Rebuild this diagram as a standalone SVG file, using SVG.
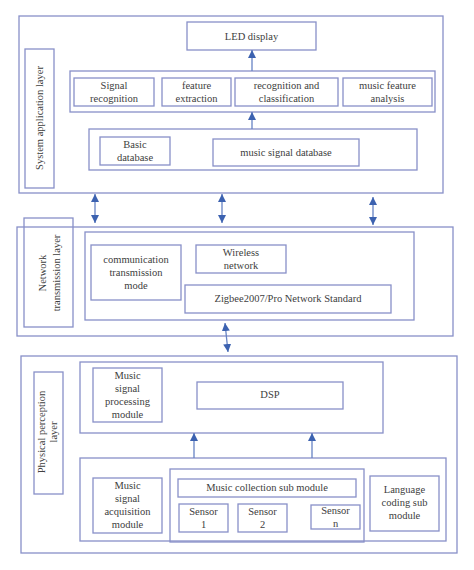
<svg xmlns="http://www.w3.org/2000/svg" width="474" height="570" viewBox="0 0 474 570">
<style>
rect{fill:none;stroke:#8890c8;stroke-width:1.3}
text{font-family:"Liberation Serif","Times New Roman",serif;font-size:10.5px;fill:#404040;text-anchor:middle}
.c line{stroke:#6683c4;stroke-width:1.3}
</style>
<defs>
<marker id="ah" viewBox="0 0 10 10" refX="10" refY="5" markerWidth="8" markerHeight="8" markerUnits="userSpaceOnUse" orient="auto-start-reverse">
<path d="M0,0 L10,5 L0,10 Z" fill="#3c62b0"/>
</marker>
</defs>
<rect width="474" height="570" style="fill:#fff;stroke:none"/>

<g id="system-layer">
<rect x="19" y="16" width="424" height="177"/>
<rect x="25" y="49" width="29" height="139"/>
<text transform="translate(43,118) rotate(-90)">System application layer</text>
</g>
<g id="led"><rect x="187" y="22" width="129" height="28"/><text x="251.5" y="39.5">LED display</text></g>
<g id="analysis-row"><rect x="70" y="71" width="365" height="41"/></g>
<g id="signal-recognition"><rect x="74" y="78" width="80" height="28"/><text x="114" y="88.5">Signal</text><text x="114" y="101.5">recognition</text></g>
<g id="feature-extraction"><rect x="162" y="78" width="69" height="28"/><text x="196.5" y="88.5">feature</text><text x="196.5" y="101.5">extraction</text></g>
<g id="recognition-classification"><rect x="235" y="78" width="103" height="28"/><text x="286.5" y="88.5">recognition and</text><text x="286.5" y="101.5">classification</text></g>
<g id="music-feature-analysis"><rect x="343" y="78" width="89" height="28"/><text x="387.5" y="88.5">music feature</text><text x="387.5" y="101.5">analysis</text></g>
<g id="database-row"><rect x="89" y="129" width="328" height="41"/></g>
<g id="basic-database"><rect x="100" y="137" width="70" height="28"/><text x="135" y="147.5">Basic</text><text x="135" y="160.5">database</text></g>
<g id="music-signal-database"><rect x="213" y="139" width="146" height="27"/><text x="286" y="155.5">music signal database</text></g>

<g id="network-layer">
<rect x="17" y="227" width="436" height="109"/>
<rect x="24" y="218" width="49" height="109"/>
<text transform="translate(45.5,273) rotate(-90)">Network</text>
<text transform="translate(59.5,273) rotate(-90)">transmission layer</text>
</g>
<g id="network-inner"><rect x="85" y="232" width="329" height="88"/></g>
<g id="communication-mode"><rect x="91" y="245" width="90" height="55"/><text x="136" y="262.5">communication</text><text x="136" y="275.5">transmission</text><text x="136" y="288.5">mode</text></g>
<g id="wireless-network"><rect x="196" y="245" width="90" height="28"/><text x="241" y="255.5">Wireless</text><text x="241" y="268.5">network</text></g>
<g id="zigbee"><rect x="185" y="285" width="206" height="28"/><text x="288" y="301.5">Zigbee2007/Pro Network Standard</text></g>

<g id="physical-layer">
<rect x="21" y="356" width="436" height="197"/>
<rect x="34" y="372" width="29" height="122"/>
<text transform="translate(44.5,432) rotate(-90)">Physical perception</text>
<text transform="translate(56.5,432) rotate(-90)">layer</text>
</g>
<g id="processing-container"><rect x="80" y="362" width="303" height="71"/></g>
<g id="processing-module"><rect x="93" y="368" width="69" height="54"/><text x="127.5" y="378.5">Music</text><text x="127.5" y="391.5">signal</text><text x="127.5" y="404.5">processing</text><text x="127.5" y="417.5">module</text></g>
<g id="dsp"><rect x="197" y="382" width="146" height="27"/><text x="270" y="398">DSP</text></g>
<g id="acquisition-container"><rect x="80" y="458" width="366" height="83"/></g>
<g id="acquisition-module"><rect x="93" y="478" width="69" height="55"/><text x="127.5" y="488.5">Music</text><text x="127.5" y="501.5">signal</text><text x="127.5" y="514.5">acquisition</text><text x="127.5" y="527.5">module</text></g>
<g id="collection-container"><rect x="170" y="469" width="194" height="73"/></g>
<g id="collection-sub-module"><rect x="178" y="479" width="178" height="18"/><text x="267" y="491">Music collection sub module</text></g>
<g id="sensor-1"><rect x="179" y="504" width="49" height="28"/><text x="203.5" y="515">Sensor</text><text x="203.5" y="528">1</text></g>
<g id="sensor-2"><rect x="238" y="504" width="49" height="28"/><text x="262.5" y="515">Sensor</text><text x="262.5" y="528">2</text></g>
<g id="sensor-n"><rect x="311" y="505" width="49" height="24"/><text x="335.5" y="513.5">Sensor</text><text x="335.5" y="526.5">n</text></g>
<g id="language-coding"><rect x="370" y="476" width="69" height="55"/><text x="404.5" y="492.5">Language</text><text x="404.5" y="505.5">coding sub</text><text x="404.5" y="518.5">module</text></g>

<g id="connectors" class="c">
<line x1="252" y1="71" x2="252" y2="50" marker-end="url(#ah)"/>
<line x1="252" y1="129" x2="252" y2="112" marker-end="url(#ah)"/>
<line x1="95" y1="194" x2="95" y2="223" marker-start="url(#ah)" marker-end="url(#ah)"/>
<line x1="222" y1="194" x2="222" y2="223" marker-start="url(#ah)" marker-end="url(#ah)"/>
<line x1="373" y1="197" x2="373" y2="225" marker-start="url(#ah)" marker-end="url(#ah)"/>
<line x1="225" y1="323" x2="228" y2="352" marker-start="url(#ah)" marker-end="url(#ah)"/>
<line x1="194" y1="458" x2="194" y2="433" marker-end="url(#ah)"/>
<line x1="312" y1="458" x2="312" y2="433" marker-end="url(#ah)"/>
</g>
</svg>
